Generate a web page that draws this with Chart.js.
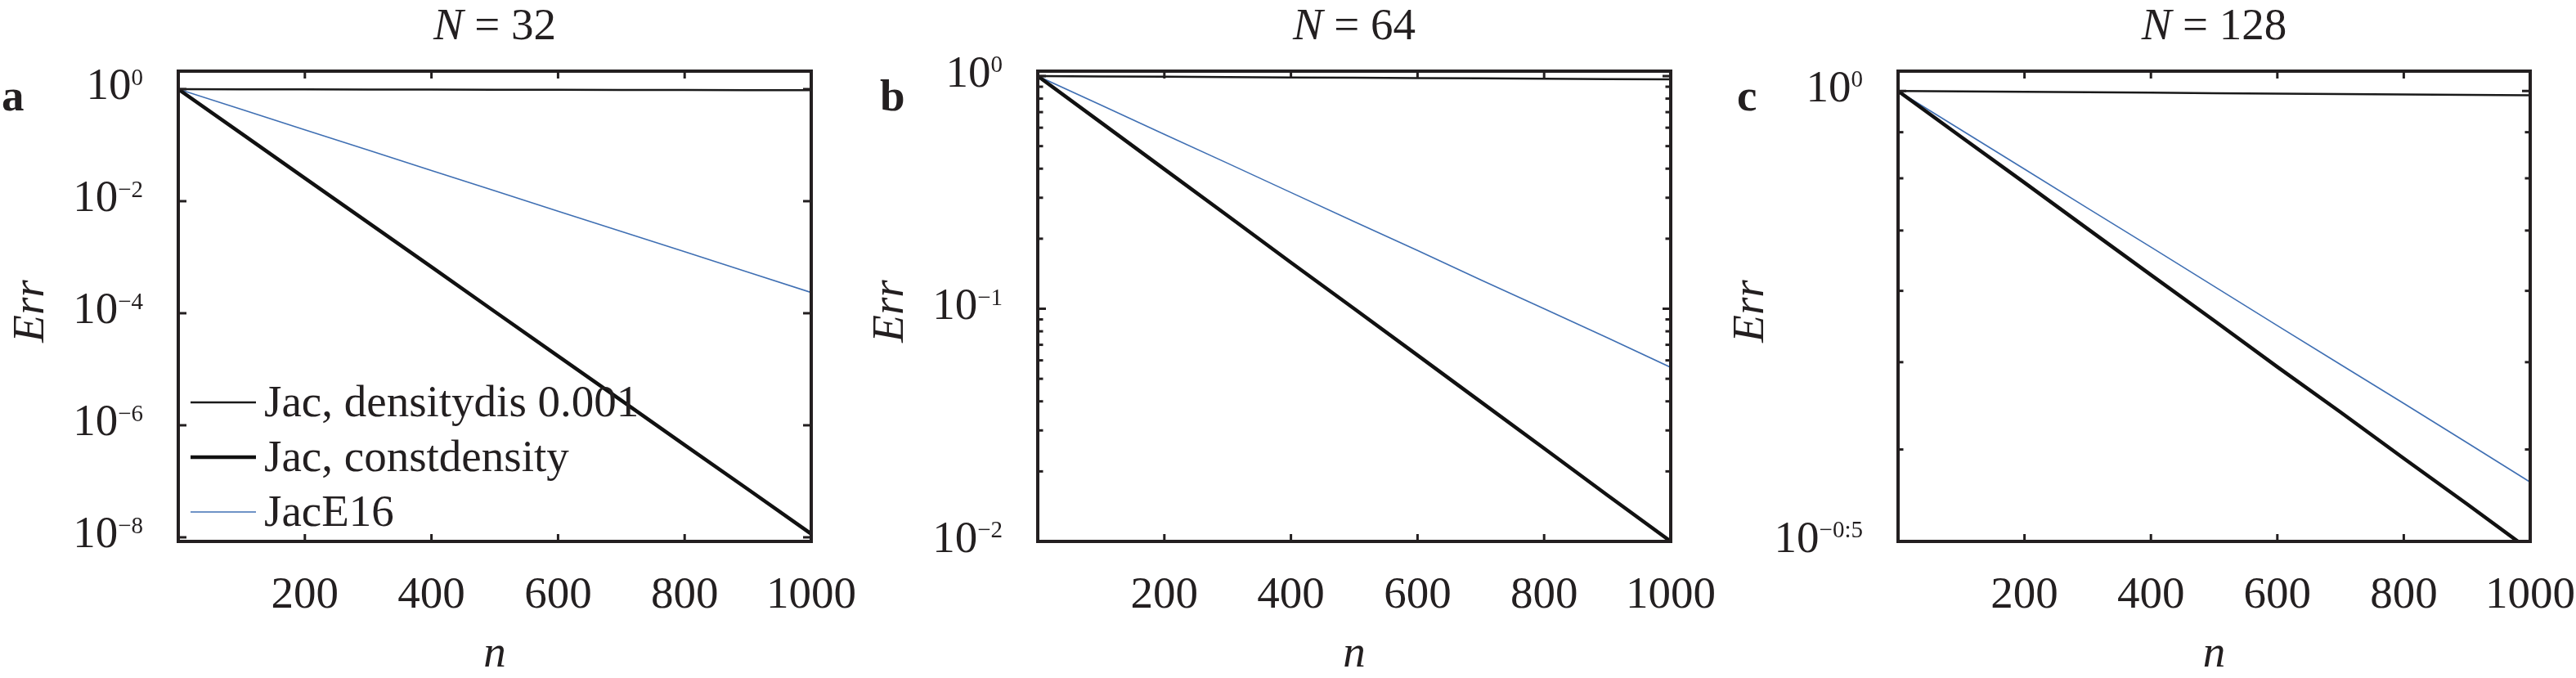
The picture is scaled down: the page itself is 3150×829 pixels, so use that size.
<!DOCTYPE html>
<html>
<head>
<meta charset="utf-8">
<script src="https://cdn.jsdelivr.net/npm/chart.js@4"></script>
<style>
  html,body{margin:0;padding:0;background:#fff;}
  #wrap{position:relative;width:3150px;height:829px;overflow:hidden;}
  canvas{position:absolute;top:0;}
</style>
</head>
<body>
<div id="wrap">
  <canvas id="panelA" width="1050" height="829" style="left:0px"></canvas>
  <canvas id="panelB" width="1050" height="829" style="left:1050px"></canvas>
  <canvas id="panelC" width="1050" height="829" style="left:2100px"></canvas>
</div>
<script>
/* -------------------------- data -------------------------- */
const iterN=[0,100,200,300,400,500,600,700,800,900,1000];
const seriesNames=["Jac, densitydis 0.001","Jac, constdensity","JacE16"];

// N = 32
const densA =[1,0.995,0.991,0.986,0.982,0.977,0.973,0.968,0.964,0.959,0.955];
const constA=[1,0.161,0.0258,0.00415,6.7e-4,1.07e-4,1.72e-5,2.77e-6,4.45e-7,7.2e-8,1.15e-8];
const e16A  =[1,0.434,0.188,0.0815,0.0353,0.0153,0.0066,0.00288,0.00125,5.4e-4,2.34e-4];
// N = 64
const densB =[1,0.997,0.994,0.990,0.987,0.984,0.981,0.978,0.975,0.971,0.968];
const constB=[1,0.631,0.398,0.251,0.158,0.1,0.0631,0.0398,0.0251,0.0158,0.01];
const e16B  =[1,0.750,0.562,0.422,0.316,0.237,0.178,0.133,0.1,0.075,0.056];
// N = 128
const densC =[1,0.9989,0.9978,0.9967,0.9956,0.9945,0.9934,0.9923,0.9912,0.9901,0.989];
const constC=[1,0.889,0.791,0.703,0.625,0.556,0.494,0.440,0.391,0.348,0.309];
const e16C  =[1,0.905,0.819,0.741,0.671,0.607,0.549,0.497,0.450,0.407,0.368];

const xTicks=[200,400,600,800,1000];
const yMajorA=[1,1e-2,1e-4,1e-6,1e-8], yExpA=["0","\u22122","\u22124","\u22126","\u22128"], yMinorA=[];
const yMajorB=[1,0.1,0.01], yExpB=["0","\u22121","\u22122"];
const yMinorB=[0.9,0.8,0.7,0.6,0.5,0.4,0.3,0.2,0.09,0.08,0.07,0.06,0.05,0.04,0.03,0.02];
const yMajorC=[1,0.31623], yExpC=["0","\u22120:5"], yMinorC=[0.9,0.8,0.7,0.6,0.5,0.4];

/* -------------------------- styling -------------------------- */
const SERIF="'Liberation Serif','Times New Roman',serif";
const INK="#231f20", BLUE="#3f6fb3";
const seriesStyle=[{color:"#1a1a1a",width:2.5},{color:"#111",width:4.5},{color:BLUE,width:1.6}];

const pts=arr=>arr.map((v,i)=>({x:iterN[i],y:v}));

// frame, inward ticks, labels, title, legend
const framePlugin={
  id:"frame",
  afterDraw(chart){
    const o=chart.options.plugins.frame, ctx=chart.ctx, a=chart.chartArea;
    const xs=chart.scales.x, ys=chart.scales.y;
    ctx.save();
    ctx.strokeStyle=INK; ctx.fillStyle=INK; ctx.lineCap="butt";
    // ticks
    ctx.lineWidth=3;
    const tk=(x1,y1,x2,y2)=>{ctx.beginPath();ctx.moveTo(x1,y1);ctx.lineTo(x2,y2);ctx.stroke();};
    xTicks.forEach(v=>{const px=xs.getPixelForValue(v); tk(px,a.bottom,px,a.bottom-9); tk(px,a.top,px,a.top+9);});
    o.yMajor.forEach(v=>{const py=ys.getPixelForValue(v); tk(a.left,py,a.left+10,py); tk(a.right,py,a.right-10,py);});
    o.yMinor.forEach(v=>{const py=ys.getPixelForValue(v); tk(a.left,py,a.left+6.5,py); tk(a.right,py,a.right-6.5,py);});
    // box
    ctx.lineWidth=4; ctx.strokeRect(a.left,a.top,a.right-a.left,a.bottom-a.top);
    // x tick labels
    ctx.font="55px "+SERIF; ctx.textAlign="center"; ctx.textBaseline="alphabetic";
    xTicks.forEach(v=>ctx.fillText(String(v),xs.getPixelForValue(v),743));
    // y tick labels 10^k
    o.yMajor.forEach((v,i)=>{
      const py=ys.getPixelForValue(v), right=a.left-43;
      ctx.font="29px "+SERIF; const we=ctx.measureText(o.yExp[i]).width;
      ctx.font="55px "+SERIF; const wb=ctx.measureText("10").width;
      ctx.textAlign="left";
      ctx.fillText("10",right-we-wb,py+12.5);
      ctx.font="29px "+SERIF; ctx.fillText(o.yExp[i],right-we,py-5);
    });
    // title  N = ..
    const cx=(a.left+a.right)/2;
    ctx.font="italic 55px "+SERIF; const wN=ctx.measureText("N").width;
    ctx.font="55px "+SERIF; const rest=" = "+o.N; const wR=ctx.measureText(rest).width;
    const tx=cx-(wN+wR)/2;
    ctx.textAlign="left";
    ctx.font="italic 55px "+SERIF; ctx.fillText("N",tx,48);
    ctx.font="55px "+SERIF; ctx.fillText(rest,tx+wN,48);
    // axis titles
    ctx.font="italic 55px "+SERIF; ctx.textAlign="center";
    ctx.fillText("n",cx,815);
    ctx.save(); ctx.translate(a.left-165,(a.top+a.bottom)/2+6); ctx.rotate(-Math.PI/2);
    ctx.fillText("Err",0,0); ctx.restore();
    // panel letter
    ctx.font="bold 55px "+SERIF; ctx.textAlign="left";
    ctx.fillText(o.letter,o.letterX,135);
    // legend (inside, lower left)
    if(o.legend){
      chart.data.datasets.forEach((d,i)=>{
        const ly=a.bottom-170+i*67;
        ctx.strokeStyle=d.borderColor; ctx.lineWidth=d.borderWidth;
        tk(a.left+15,ly,a.left+95,ly);
        ctx.fillStyle=INK; ctx.font="55px "+SERIF; ctx.textAlign="left";
        ctx.fillText(d.label,a.left+105,ly+17);
      });
    }
    ctx.restore();
  }
};

function makePanel(id,cfg){
  const datasets=cfg.series.map((s,i)=>({
    label:seriesNames[i], data:pts(s), borderColor:seriesStyle[i].color, borderWidth:seriesStyle[i].width,
    pointRadius:0, tension:0, fill:false
  }));
  return new Chart(document.getElementById(id),{
    type:"line",
    data:{datasets},
    plugins:[framePlugin],
    options:{
      responsive:false, animation:false, devicePixelRatio:1,
      layout:{padding:cfg.pad},
      scales:{
        x:{type:"linear",min:0,max:1000,display:false},
        y:{type:"logarithmic",min:cfg.ymin,max:cfg.ymax,display:false}
      },
      plugins:{
        legend:{display:false}, tooltip:{enabled:false},
        frame:{N:cfg.N,letter:cfg.letter,letterX:cfg.letterX,yMajor:cfg.yMajor,yExp:cfg.yExp,yMinor:cfg.yMinor,legend:!!cfg.legend}
      }
    }
  });
}

makePanel("panelA",{series:[densA,constA,e16A],N:32,letter:"a",letterX:2,
  pad:{left:218,right:58,top:87,bottom:167},ymin:8.45e-9,ymax:2.094,
  yMajor:yMajorA,yExp:yExpA,yMinor:yMinorA,legend:true});
makePanel("panelB",{series:[densB,constB,e16B],N:64,letter:"b",letterX:26,
  pad:{left:219,right:57,top:87,bottom:167},ymin:0.01,ymax:1.05,
  yMajor:yMajorB,yExp:yExpB,yMinor:yMinorB});
makePanel("panelC",{series:[densC,constC,e16C],N:128,letter:"c",letterX:24,
  pad:{left:221,right:56,top:87,bottom:167},ymin:0.31623,ymax:1.052,
  yMajor:yMajorC,yExp:yExpC,yMinor:yMinorC});
</script>
</body>
</html>
